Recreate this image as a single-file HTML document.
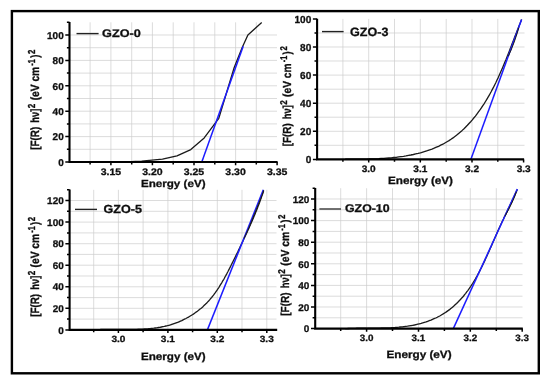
<!DOCTYPE html>
<html><head><meta charset="utf-8"><title>GZO Tauc plots</title>
<style>
html,body{margin:0;padding:0;background:#fff;}
body{width:550px;height:384px;overflow:hidden;}
svg{display:block;}
text{font-family:"Liberation Sans", Arial, Helvetica, sans-serif;font-weight:bold;fill:#111;stroke:#111;stroke-width:0.3px;text-rendering:geometricPrecision;}
</style></head><body>
<svg width="550" height="384" viewBox="0 0 550 384">
<defs><filter id="soft" x="0" y="0" width="550" height="384" filterUnits="userSpaceOnUse"><feGaussianBlur stdDeviation="0.32"/></filter></defs>
<rect x="0" y="0" width="550" height="384" fill="#fff"/>
<g filter="url(#soft)">
<path d="M90.1 22.3 V162.0 M110.9 22.3 V162.0 M131.7 22.3 V162.0 M152.4 22.3 V162.0 M173.2 22.3 V162.0 M194.0 22.3 V162.0 M214.8 22.3 V162.0 M235.6 22.3 V162.0 M256.3 22.3 V162.0 M69.5 149.3 H277.0 M69.5 136.6 H277.0 M69.5 123.9 H277.0 M69.5 111.2 H277.0 M69.5 98.5 H277.0 M69.5 85.8 H277.0 M69.5 73.1 H277.0 M69.5 60.4 H277.0 M69.5 47.7 H277.0 M69.5 35.0 H277.0" stroke="#cdcdcd" stroke-width="0.7" fill="none"/>
<path d="M125.0 162.0 L141.7 161.2 L162.5 159.2 L177.0 155.8 L190.8 149.6 L204.2 137.9 L218.8 118.3 L234.2 67.5 L242.2 47.5 L247.9 35.0 L261.7 22.5" stroke="#1a1a1a" stroke-width="1.3" fill="none" stroke-linejoin="round"/>
<path d="M201.8 162.0 L243.2 46.3" stroke="#1c1cff" stroke-width="1.5" fill="none"/>
<path d="M69.50 22.10 V162.00 H277.60" stroke="#000" stroke-width="2.1" fill="none" stroke-linejoin="miter"/>
<path d="M65.3 162.0 H69.5 M65.3 136.6 H69.5 M65.3 111.2 H69.5 M65.3 85.8 H69.5 M65.3 60.4 H69.5 M65.3 35.0 H69.5 M66.9 149.3 H69.5 M66.9 123.9 H69.5 M66.9 98.5 H69.5 M66.9 73.1 H69.5 M66.9 47.7 H69.5 M66.9 22.3 H69.5 M110.9 162.0 V165.2 M152.4 162.0 V165.2 M194.0 162.0 V165.2 M235.6 162.0 V165.2 M277.1 162.0 V165.2 M90.1 162.0 V164.4 M131.7 162.0 V164.4 M173.2 162.0 V164.4 M214.8 162.0 V164.4 M256.3 162.0 V164.4" stroke="#000" stroke-width="1.5" fill="none"/>
<text transform="translate(58.13 165.75) scale(1.013 1)" font-size="9.89">0</text>
<text transform="translate(52.57 140.35) scale(1.013 1)" font-size="9.89">20</text>
<text transform="translate(52.57 114.95) scale(1.013 1)" font-size="9.89">40</text>
<text transform="translate(52.57 89.55) scale(1.013 1)" font-size="9.89">60</text>
<text transform="translate(52.57 64.15) scale(1.013 1)" font-size="9.89">80</text>
<text transform="translate(47.00 38.75) scale(1.013 1)" font-size="9.89">100</text>
<text transform="translate(100.70 174.50) scale(1.126 1)" font-size="9.31">3.15</text>
<text transform="translate(142.25 174.50) scale(1.126 1)" font-size="9.31">3.20</text>
<text transform="translate(183.80 174.50) scale(1.126 1)" font-size="9.31">3.25</text>
<text transform="translate(225.35 174.50) scale(1.126 1)" font-size="9.31">3.30</text>
<text transform="translate(266.90 174.50) scale(1.126 1)" font-size="9.31">3.35</text>
<path d="M76.5 33.6 H98.6" stroke="#222" stroke-width="1.4"/>
<text transform="translate(102.10 36.70) scale(1.143 1)" font-size="11.05">GZO-0</text>
<text transform="translate(140.90 186.70) scale(1.128 1)" font-size="10.32">Energy (eV)</text>
<g transform="translate(38.80 150.45) rotate(-90)">
<text transform="translate(0.75 0.00) scale(0.984 1.192)" font-size="10.00">[F(R)</text>
<text transform="translate(27.75 0.00) scale(0.937 1.192)" font-size="10.00">hν]</text>
<text transform="translate(42.30 -4.20) scale(0.952 1.192)" font-size="8.50">2</text>
<text transform="translate(50.10 0.00) scale(1.022 1.192)" font-size="10.00">(eV cm</text>
<text transform="translate(84.80 -4.20) scale(0.860 1.192)" font-size="8.50">-1</text>
<text transform="translate(92.60 0.00) scale(0.946 1.192)" font-size="10.00">)</text>
<text transform="translate(96.40 -4.20) scale(0.920 1.192)" font-size="8.50">2</text>
</g>
<path d="M93.7 189.8 V329.9 M118.4 189.8 V329.9 M143.1 189.8 V329.9 M167.9 189.8 V329.9 M192.6 189.8 V329.9 M217.3 189.8 V329.9 M242.0 189.8 V329.9 M266.8 189.8 V329.9 M69.6 319.1 H276.5 M69.6 308.3 H276.5 M69.6 297.6 H276.5 M69.6 286.8 H276.5 M69.6 276.0 H276.5 M69.6 265.2 H276.5 M69.6 254.4 H276.5 M69.6 243.7 H276.5 M69.6 232.9 H276.5 M69.6 222.1 H276.5 M69.6 211.3 H276.5 M69.6 200.5 H276.5" stroke="#cdcdcd" stroke-width="0.7" fill="none"/>
<path d="M95.2 329.9 L96.6 329.8 L98.1 329.7 L99.5 329.6 L101.0 329.5 L102.5 329.5 L104.0 329.4 L105.5 329.4 L107.0 329.4 L108.5 329.3 L110.0 329.3 L111.6 329.3 L113.1 329.3 L114.6 329.3 L116.2 329.3 L117.7 329.3 L119.3 329.3 L120.9 329.3 L122.4 329.3 L124.0 329.3 L125.5 329.3 L127.1 329.3 L128.7 329.3 L130.3 329.3 L131.8 329.3 L133.4 329.3 L135.0 329.3 L136.6 329.3 L138.1 329.2 L139.7 329.2 L141.3 329.1 L142.9 329.1 L144.4 329.0 L146.0 328.9 L147.6 328.8 L149.1 328.6 L150.7 328.5 L152.2 328.3 L153.8 328.2 L155.3 328.0 L156.9 327.8 L158.4 327.5 L159.9 327.3 L161.4 327.0 L162.9 326.7 L164.4 326.4 L165.9 326.0 L167.4 325.7 L168.9 325.3 L170.4 324.9 L171.8 324.4 L173.3 323.9 L174.7 323.4 L176.2 322.9 L177.6 322.4 L179.0 321.8 L180.4 321.2 L181.8 320.6 L183.1 319.9 L184.5 319.2 L185.9 318.5 L187.2 317.8 L188.5 317.1 L189.8 316.3 L191.1 315.5 L192.4 314.7 L193.7 313.9 L194.9 313.0 L196.1 312.1 L197.4 311.2 L198.6 310.3 L199.7 309.3 L200.9 308.4 L202.1 307.4 L203.2 306.4 L204.3 305.3 L205.4 304.3 L206.5 303.2 L207.5 302.1 L208.6 301.0 L209.6 299.9 L210.6 298.7 L211.6 297.5 L212.5 296.3 L213.5 295.1 L214.4 293.9 L215.3 292.7 L216.2 291.4 L217.1 290.1 L217.9 288.9 L218.8 287.6 L219.6 286.2 L220.4 284.9 L221.2 283.6 L222.0 282.3 L222.8 280.9 L223.6 279.6 L224.4 278.2 L225.1 276.8 L225.9 275.4 L226.6 274.1 L227.3 272.7 L228.1 271.3 L228.8 269.9 L229.5 268.5 L230.2 267.1 L230.9 265.7 L231.6 264.3 L232.3 262.9 L233.0 261.5 L233.7 260.1 L234.4 258.7 L235.1 257.4 L235.7 256.0 L236.4 254.6 L237.1 253.2 L237.8 251.8 L238.4 250.4 L239.1 249.0 L239.8 247.6 L240.4 246.2 L241.1 244.8 L241.8 243.5 L242.4 242.1 L243.1 240.7 L243.7 239.3 L244.4 237.9 L245.0 236.5 L245.7 235.2 L246.3 233.8 L247.0 232.4 L247.6 231.0 L248.2 229.6 L248.9 228.2 L249.5 226.8 L250.1 225.4 L250.7 224.0 L251.4 222.6 L252.0 221.2 L252.6 219.8 L253.2 218.4 L253.8 217.0 L254.4 215.6 L255.0 214.2 L255.5 212.8 L256.1 211.4 L256.7 209.9 L257.3 208.5 L257.8 207.1 L258.4 205.6 L258.9 204.2 L259.5 202.7 L260.0 201.3 L260.5 199.8 L261.1 198.4 L261.6 196.9 L262.1 195.4 L262.6 194.0 L263.1 192.5 L263.6 191.0" stroke="#1a1a1a" stroke-width="1.3" fill="none" stroke-linejoin="round"/>
<path d="M207.4 329.9 L263.3 189.7" stroke="#1c1cff" stroke-width="1.5" fill="none"/>
<path d="M244.2 238.0 L248.8 228.0 L256.1 210.0 L262.1 195.0 L263.6 190.6" stroke="#1a1a1a" stroke-width="1.0" fill="none" stroke-linecap="round"/>
<path d="M69.60 189.56 V329.90 H277.20" stroke="#000" stroke-width="2.1" fill="none" stroke-linejoin="miter"/>
<path d="M65.4 329.9 H69.6 M65.4 308.3 H69.6 M65.4 286.8 H69.6 M65.4 265.2 H69.6 M65.4 243.7 H69.6 M65.4 222.1 H69.6 M65.4 200.5 H69.6 M67.0 319.1 H69.6 M67.0 297.6 H69.6 M67.0 276.0 H69.6 M67.0 254.4 H69.6 M67.0 232.9 H69.6 M67.0 211.3 H69.6 M67.0 189.8 H69.6 M118.4 329.9 V333.1 M167.9 329.9 V333.1 M217.3 329.9 V333.1 M266.8 329.9 V333.1 M93.7 329.9 V332.3 M143.1 329.9 V332.3 M192.6 329.9 V332.3 M242.0 329.9 V332.3" stroke="#000" stroke-width="1.5" fill="none"/>
<text transform="translate(58.17 333.60) scale(1.022 1)" font-size="9.74">0</text>
<text transform="translate(52.63 312.04) scale(1.022 1)" font-size="9.74">20</text>
<text transform="translate(52.63 290.48) scale(1.022 1)" font-size="9.74">40</text>
<text transform="translate(52.63 268.92) scale(1.022 1)" font-size="9.74">60</text>
<text transform="translate(52.63 247.36) scale(1.022 1)" font-size="9.74">80</text>
<text transform="translate(47.10 225.80) scale(1.022 1)" font-size="9.74">100</text>
<text transform="translate(47.10 204.24) scale(1.022 1)" font-size="9.74">120</text>
<text transform="translate(111.40 342.40) scale(1.116 1)" font-size="9.03">3.0</text>
<text transform="translate(160.85 342.40) scale(1.116 1)" font-size="9.03">3.1</text>
<text transform="translate(210.30 342.40) scale(1.116 1)" font-size="9.03">3.2</text>
<text transform="translate(259.75 342.40) scale(1.116 1)" font-size="9.03">3.3</text>
<path d="M75.0 209.4 H97.0" stroke="#222" stroke-width="1.4"/>
<text transform="translate(103.60 212.90) scale(1.067 1)" font-size="11.77">GZO-5</text>
<text transform="translate(141.00 360.00) scale(1.096 1)" font-size="10.61">Energy (eV)</text>
<g transform="translate(38.80 317.55) rotate(-90)">
<text transform="translate(0.75 0.00) scale(0.984 1.192)" font-size="10.00">[F(R)</text>
<text transform="translate(27.75 0.00) scale(0.937 1.192)" font-size="10.00">hν]</text>
<text transform="translate(42.30 -4.20) scale(0.952 1.192)" font-size="8.50">2</text>
<text transform="translate(50.10 0.00) scale(1.022 1.192)" font-size="10.00">(eV cm</text>
<text transform="translate(84.80 -4.20) scale(0.860 1.192)" font-size="8.50">-1</text>
<text transform="translate(92.60 0.00) scale(0.946 1.192)" font-size="10.00">)</text>
<text transform="translate(96.40 -4.20) scale(0.920 1.192)" font-size="8.50">2</text>
</g>
<path d="M342.9 18.9 V159.4 M368.7 18.9 V159.4 M394.5 18.9 V159.4 M420.3 18.9 V159.4 M446.2 18.9 V159.4 M472.0 18.9 V159.4 M497.8 18.9 V159.4 M317.1 145.3 H524.5 M317.1 131.3 H524.5 M317.1 117.2 H524.5 M317.1 103.2 H524.5 M317.1 89.2 H524.5 M317.1 75.1 H524.5 M317.1 61.0 H524.5 M317.1 47.0 H524.5 M317.1 33.0 H524.5" stroke="#cdcdcd" stroke-width="0.7" fill="none"/>
<path d="M345.2 159.2 L347.5 159.2 L349.8 159.2 L352.1 159.2 L354.5 159.2 L356.9 159.2 L359.3 159.2 L361.7 159.2 L364.1 159.1 L366.5 159.1 L369.0 159.0 L371.4 159.0 L373.9 158.9 L376.4 158.8 L378.8 158.7 L381.3 158.5 L383.8 158.4 L386.3 158.2 L388.8 158.0 L391.2 157.8 L393.7 157.5 L396.2 157.3 L398.7 156.9 L401.1 156.6 L403.6 156.3 L406.0 155.9 L408.5 155.4 L410.9 155.0 L413.3 154.5 L415.7 153.9 L418.1 153.4 L420.4 152.8 L422.8 152.1 L425.1 151.4 L427.4 150.7 L429.7 149.9 L432.0 149.1 L434.2 148.2 L436.4 147.2 L438.6 146.3 L440.7 145.2 L442.9 144.2 L444.9 143.0 L447.0 141.8 L449.0 140.6 L451.0 139.3 L453.0 137.9 L454.9 136.5 L456.8 135.1 L458.6 133.5 L460.4 132.0 L462.2 130.4 L464.0 128.7 L465.7 127.0 L467.4 125.3 L469.0 123.5 L470.7 121.7 L472.3 119.9 L473.8 118.0 L475.4 116.1 L476.9 114.1 L478.3 112.2 L479.8 110.2 L481.2 108.2 L482.5 106.1 L483.9 104.1 L485.2 102.0 L486.5 99.9 L487.8 97.7 L489.0 95.6 L490.2 93.5 L491.4 91.3 L492.5 89.1 L493.7 86.9 L494.8 84.7 L495.9 82.5 L496.9 80.3 L498.0 78.1 L499.0 75.8 L500.0 73.6 L501.0 71.3 L502.0 69.1 L503.0 66.8 L503.9 64.6 L504.8 62.3 L505.8 60.0 L506.7 57.7 L507.6 55.5 L508.5 53.2 L509.4 50.9 L510.3 48.6 L511.1 46.4 L512.0 44.1 L512.9 41.8 L513.8 39.6 L514.6 37.3 L515.5 35.1 L516.4 32.8 L517.2 30.6 L518.1 28.4 L519.0 26.1 L519.9 23.9 L520.7 21.7 L521.6 19.5" stroke="#1a1a1a" stroke-width="1.3" fill="none" stroke-linejoin="round"/>
<path d="M470.8 159.4 L521.6 19.4" stroke="#1c1cff" stroke-width="1.5" fill="none"/>
<path d="M508.4 56.0 L511.1 50.0 L514.2 42.0 L516.9 34.0 L518.7 28.0" stroke="#1a1a1a" stroke-width="1.0" fill="none" stroke-linecap="round"/>
<path d="M317.10 18.70 V159.40 H524.10" stroke="#000" stroke-width="2.1" fill="none" stroke-linejoin="miter"/>
<path d="M312.9 159.4 H317.1 M312.9 131.3 H317.1 M312.9 103.2 H317.1 M312.9 75.1 H317.1 M312.9 47.0 H317.1 M312.9 18.9 H317.1 M314.5 145.3 H317.1 M314.5 117.2 H317.1 M314.5 89.2 H317.1 M314.5 61.0 H317.1 M314.5 33.0 H317.1 M368.7 159.4 V162.6 M420.3 159.4 V162.6 M472.0 159.4 V162.6 M523.6 159.4 V162.6 M342.9 159.4 V161.8 M394.5 159.4 V161.8 M446.2 159.4 V161.8 M497.8 159.4 V161.8" stroke="#000" stroke-width="1.5" fill="none"/>
<text transform="translate(305.70 163.25) scale(0.990 1)" font-size="10.17">0</text>
<text transform="translate(300.10 135.15) scale(0.990 1)" font-size="10.17">20</text>
<text transform="translate(300.10 107.05) scale(0.990 1)" font-size="10.17">40</text>
<text transform="translate(300.10 78.95) scale(0.990 1)" font-size="10.17">60</text>
<text transform="translate(300.10 50.85) scale(0.990 1)" font-size="10.17">80</text>
<text transform="translate(294.50 22.75) scale(0.990 1)" font-size="10.17">100</text>
<text transform="translate(361.70 172.00) scale(1.082 1)" font-size="9.31">3.0</text>
<text transform="translate(413.35 172.00) scale(1.082 1)" font-size="9.31">3.1</text>
<text transform="translate(465.00 172.00) scale(1.082 1)" font-size="9.31">3.2</text>
<text transform="translate(516.65 172.00) scale(1.082 1)" font-size="9.31">3.3</text>
<path d="M322.0 31.6 H343.6" stroke="#222" stroke-width="1.4"/>
<text transform="translate(350.00 35.50) scale(1.042 1)" font-size="12.06">GZO-3</text>
<text transform="translate(388.00 184.00) scale(1.102 1)" font-size="10.61">Energy (eV)</text>
<g transform="translate(291.20 147.00) rotate(-90)">
<text transform="translate(0.75 0.00) scale(0.984 1.163)" font-size="10.00">[F(R)</text>
<text transform="translate(27.75 0.00) scale(0.937 1.163)" font-size="10.00">hν]</text>
<text transform="translate(42.30 -4.20) scale(0.952 1.163)" font-size="8.50">2</text>
<text transform="translate(50.10 0.00) scale(1.022 1.163)" font-size="10.00">(eV cm</text>
<text transform="translate(84.80 -4.20) scale(0.860 1.163)" font-size="8.50">-1</text>
<text transform="translate(92.60 0.00) scale(0.946 1.163)" font-size="10.00">)</text>
<text transform="translate(96.40 -4.20) scale(0.920 1.163)" font-size="8.50">2</text>
</g>
<path d="M340.7 188.2 V328.6 M366.6 188.2 V328.6 M392.5 188.2 V328.6 M418.5 188.2 V328.6 M444.4 188.2 V328.6 M470.3 188.2 V328.6 M496.3 188.2 V328.6 M315.2 317.8 H522.5 M315.2 307.0 H522.5 M315.2 296.2 H522.5 M315.2 285.4 H522.5 M315.2 274.6 H522.5 M315.2 263.8 H522.5 M315.2 253.0 H522.5 M315.2 242.2 H522.5 M315.2 231.4 H522.5 M315.2 220.6 H522.5 M315.2 209.8 H522.5 M315.2 199.0 H522.5" stroke="#cdcdcd" stroke-width="0.7" fill="none"/>
<path d="M345.1 328.7 L346.8 328.6 L348.5 328.5 L350.1 328.4 L351.8 328.4 L353.5 328.3 L355.2 328.3 L356.9 328.2 L358.6 328.2 L360.3 328.2 L362.1 328.2 L363.8 328.2 L365.5 328.1 L367.3 328.1 L369.0 328.1 L370.7 328.1 L372.5 328.1 L374.2 328.1 L376.0 328.1 L377.7 328.1 L379.5 328.1 L381.3 328.0 L383.0 328.0 L384.8 327.9 L386.5 327.9 L388.3 327.8 L390.1 327.8 L391.8 327.7 L393.6 327.6 L395.3 327.5 L397.1 327.3 L398.8 327.2 L400.6 327.0 L402.3 326.8 L404.0 326.6 L405.8 326.4 L407.5 326.2 L409.2 325.9 L411.0 325.6 L412.7 325.3 L414.4 325.0 L416.1 324.6 L417.8 324.2 L419.4 323.8 L421.1 323.4 L422.8 322.9 L424.4 322.4 L426.1 321.9 L427.7 321.3 L429.3 320.7 L430.9 320.1 L432.5 319.4 L434.1 318.7 L435.7 318.0 L437.2 317.3 L438.7 316.5 L440.2 315.7 L441.7 314.8 L443.2 313.9 L444.6 313.0 L446.0 312.1 L447.4 311.1 L448.8 310.1 L450.2 309.1 L451.5 308.0 L452.8 306.9 L454.1 305.8 L455.4 304.6 L456.6 303.5 L457.8 302.3 L459.0 301.0 L460.2 299.8 L461.3 298.5 L462.5 297.3 L463.6 296.0 L464.6 294.6 L465.7 293.3 L466.7 291.9 L467.8 290.6 L468.8 289.2 L469.7 287.8 L470.7 286.4 L471.7 284.9 L472.6 283.5 L473.5 282.0 L474.4 280.5 L475.3 279.0 L476.1 277.5 L477.0 276.0 L477.8 274.5 L478.7 272.9 L479.5 271.4 L480.3 269.8 L481.1 268.3 L481.9 266.7 L482.6 265.1 L483.4 263.5 L484.2 262.0 L484.9 260.4 L485.6 258.8 L486.4 257.2 L487.1 255.5 L487.8 253.9 L488.6 252.3 L489.3 250.7 L490.0 249.1 L490.7 247.5 L491.4 245.9 L492.1 244.2 L492.8 242.6 L493.5 241.0 L494.2 239.4 L494.9 237.8 L495.6 236.2 L496.3 234.6 L497.0 233.0 L497.7 231.4 L498.4 229.8 L499.1 228.2 L499.8 226.7 L500.6 225.1 L501.3 223.5 L502.0 222.0 L502.8 220.4 L503.5 218.9 L504.2 217.3 L505.0 215.8 L505.7 214.3 L506.4 212.7 L507.2 211.2 L507.9 209.6 L508.6 208.1 L509.4 206.6 L510.1 205.0 L510.9 203.5 L511.6 201.9 L512.3 200.4 L513.1 198.8 L513.8 197.3 L514.5 195.7 L515.2 194.1 L516.0 192.6 L516.7 191.0 L517.4 189.4" stroke="#1a1a1a" stroke-width="1.3" fill="none" stroke-linejoin="round"/>
<path d="M453.3 328.6 L517.3 189.0" stroke="#1c1cff" stroke-width="1.5" fill="none"/>
<path d="M505.1 216.0 L508.9 209.0 L512.3 202.0 L514.9 196.0 L516.2 192.0" stroke="#1a1a1a" stroke-width="1.0" fill="none" stroke-linecap="round"/>
<path d="M315.20 188.00 V328.60 H522.80" stroke="#000" stroke-width="2.1" fill="none" stroke-linejoin="miter"/>
<path d="M311.0 328.6 H315.2 M311.0 307.0 H315.2 M311.0 285.4 H315.2 M311.0 263.8 H315.2 M311.0 242.2 H315.2 M311.0 220.6 H315.2 M311.0 199.0 H315.2 M312.6 317.8 H315.2 M312.6 296.2 H315.2 M312.6 274.6 H315.2 M312.6 253.0 H315.2 M312.6 231.4 H315.2 M312.6 209.8 H315.2 M312.6 188.2 H315.2 M366.6 328.6 V331.8 M418.5 328.6 V331.8 M470.3 328.6 V331.8 M522.2 328.6 V331.8 M340.7 328.6 V331.0 M392.5 328.6 V331.0 M444.4 328.6 V331.0 M496.3 328.6 V331.0" stroke="#000" stroke-width="1.5" fill="none"/>
<text transform="translate(303.77 332.30) scale(1.022 1)" font-size="9.74">0</text>
<text transform="translate(298.23 310.70) scale(1.022 1)" font-size="9.74">20</text>
<text transform="translate(298.23 289.10) scale(1.022 1)" font-size="9.74">40</text>
<text transform="translate(298.23 267.50) scale(1.022 1)" font-size="9.74">60</text>
<text transform="translate(298.23 245.90) scale(1.022 1)" font-size="9.74">80</text>
<text transform="translate(292.70 224.30) scale(1.022 1)" font-size="9.74">100</text>
<text transform="translate(292.70 202.70) scale(1.022 1)" font-size="9.74">120</text>
<text transform="translate(359.75 340.70) scale(1.075 1)" font-size="9.17">3.0</text>
<text transform="translate(411.62 340.70) scale(1.075 1)" font-size="9.17">3.1</text>
<text transform="translate(463.49 340.70) scale(1.075 1)" font-size="9.17">3.2</text>
<text transform="translate(515.36 340.70) scale(1.075 1)" font-size="9.17">3.3</text>
<path d="M319.4 209.0 H341.0" stroke="#606060" stroke-width="1.8"/>
<text transform="translate(345.00 211.90) scale(1.103 1)" font-size="11.19">GZO-10</text>
<text transform="translate(386.40 358.40) scale(1.106 1)" font-size="10.61">Energy (eV)</text>
<g transform="translate(289.40 316.45) rotate(-90)">
<text transform="translate(0.76 0.00) scale(0.984 1.149)" font-size="10.12">[F(R)</text>
<text transform="translate(28.08 0.00) scale(0.937 1.149)" font-size="10.12">hν]</text>
<text transform="translate(42.80 -4.20) scale(0.952 1.149)" font-size="8.60">2</text>
<text transform="translate(50.70 0.00) scale(1.022 1.149)" font-size="10.12">(eV cm</text>
<text transform="translate(85.81 -4.20) scale(0.860 1.149)" font-size="8.60">-1</text>
<text transform="translate(93.70 0.00) scale(0.946 1.149)" font-size="10.12">)</text>
<text transform="translate(97.55 -4.20) scale(0.920 1.149)" font-size="8.60">2</text>
</g>
<rect x="11.9" y="11.1" width="526.9" height="362.2" fill="none" stroke="#000" stroke-width="2.4"/>
</g>
</svg>
</body></html>
